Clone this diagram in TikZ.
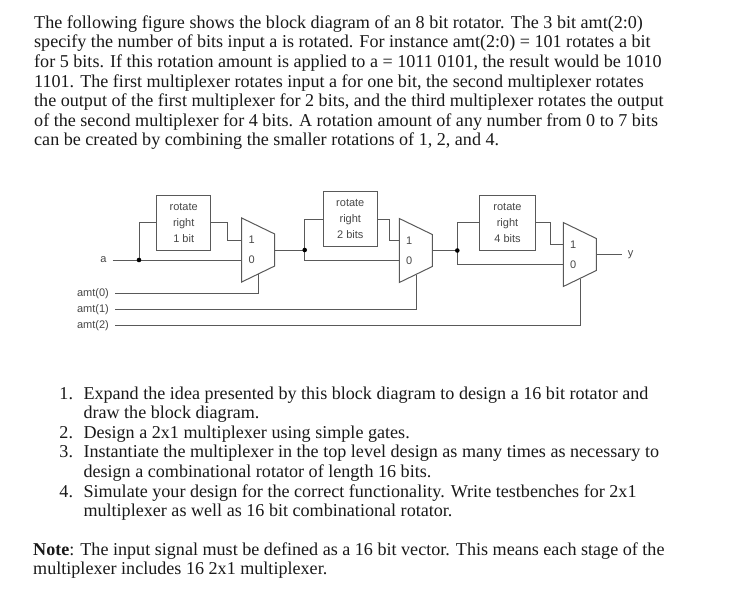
\documentclass[tikz,border=0pt]{standalone}
\usepackage{fontspec}
\setmainfont{Liberation Serif}
\setsansfont{Liberation Sans}
\usepackage{tikz}
\usetikzlibrary{calc}

\definecolor{wiregray}{gray}{0.35}
\definecolor{labelgray}{gray}{0.28}
\definecolor{textblack}{gray}{0.1}

% mux outline: name, left x, centre y
\newcommand{\muxblock}[3]{%
\draw [wire] (#2,#3-32) -- (#2+33,#3-16) -- (#2+33,#3+16) -- (#2,#3+32) -- cycle;
\coordinate (#1-in1) at (#2,#3-10);
\coordinate (#1-in0) at (#2,#3+10);
\coordinate (#1-out) at (#2+33,#3);
\coordinate (#1-sel) at (#2+17,#3+24);
\node [pin] (#1-p1) at (#2+10,#3-10) {1};
\node [pin] (#1-p0) at (#2+10,#3+10) {0};
}

\begin{document}
\begin{tikzpicture}[x=1pt,y=-1pt,
  wire/.style={wiregray,line width=1pt},
  para/.style={textblack,inner sep=0pt,align=left,font=\fontsize{18.1}{19.6}\selectfont},
  rotbox/.style={draw=wiregray,line width=1pt,fill=white,minimum width=54pt,minimum height=55pt,inner sep=0pt,align=center,text=labelgray,font=\sffamily\fontsize{11}{16}\selectfont},
  pin/.style={inner sep=0pt,text=labelgray,font=\sffamily\fontsize{11}{12}\selectfont},
  sig/.style={inner xsep=6pt,inner ysep=0pt,text=labelgray,font=\sffamily\fontsize{11}{12}\selectfont},
  dot/.style={fill=black}]
\useasboundingbox (0,0) rectangle (732,589);

% text above the figure (base = last line)
\node [para,anchor=base west] (intro) at (34,145.9) {The following figure shows the block diagram of an 8 bit rotator. The 3 bit amt(2:0)\\
specify the number of bits input a is rotated. For instance amt(2:0) = 101 rotates a bit\\
for 5 bits. If this rotation amount is applied to a = 1011 0101, the result would be 1010\\
1101. The first multiplexer rotates input a for one bit, the second multiplexer rotates\\
the output of the first multiplexer for 2 bits, and the third multiplexer rotates the output\\
of the second multiplexer for 4 bits. A rotation amount of any number from 0 to 7 bits\\
can be created by combining the smaller rotations of 1, 2, and 4.};

% the rotator
\node [rotbox] (rot1) at (183.7,222.5) {rotate\\right\\1 bit};
\node [rotbox] (rot2) at (350.3,219) {rotate\\right\\2 bits};
\node [rotbox,minimum width=56pt] (rot4) at (507.5,222.7) {rotate\\right\\4 bits};
\muxblock{m1}{241.7}{250}
\muxblock{m2}{399.3}{250.5}
\muxblock{m3}{563.3}{254.5}

\node [sig,anchor=east] (a) at (112.7,260) {a};
\node [sig,anchor=east] (amt0) at (115,293.3) {amt(0)};
\node [sig,anchor=east] (amt1) at (115,309.3) {amt(1)};
\node [sig,anchor=east] (amt2) at (115,325.7) {amt(2)};
\node [sig,anchor=west] (y) at (621.7,254.5) {y};

\draw [wire] (a.east) -- (m1-in0);
\coordinate (j1) at (139,260);
\draw [wire] (j1) |- (rot1.west);
\draw [wire] (rot1.east) -- ++(16.7,0) |- (m1-in1);
\draw [wire] (m1-out) -- ++(30,0) coordinate (j2) |- (m2-in0);
\draw [wire] (j2) |- (rot2.west);
\draw [wire] (rot2.east) -- ++(11.6,0) |- (m2-in1);
\draw [wire] (m2-out) -- ++(25,0) coordinate (j3) |- (m3-in0);
\draw [wire] (j3) |- (rot4.west);
\draw [wire] (rot4.east) -- ++(14.3,0) |- (m3-in1);
\draw [wire] (m3-out) -- (y.west);
\draw [wire] (amt0.east) -| (m1-sel);
\draw [wire] (amt1.east) -| (m2-sel);
\draw [wire] (amt2.east) -| (m3-sel);
\foreach \j in {j1,j2,j3} \fill [dot] (\j) circle (2.3pt);

% tasks (base = last line)
\node [para,anchor=base west] (n1) at (59.3,399) {1.};
\node [para,anchor=base west] (t1) at (83.3,418.6) {Expand the idea presented by this block diagram to design a 16 bit rotator and\\
draw the block diagram.};
\node [para,anchor=base west] (n2) at (59.3,438.2) {2.};
\node [para,anchor=base west] (t2) at (83.3,438.2) {Design a 2x1 multiplexer using simple gates.};
\node [para,anchor=base west] (n3) at (59.3,457.8) {3.};
\node [para,anchor=base west] (t3) at (83.3,477.4) {Instantiate the multiplexer in the top level design as many times as necessary to\\
design a combinational rotator of length 16 bits.};
\node [para,anchor=base west] (n4) at (59.3,497) {4.};
\node [para,anchor=base west] (t4) at (83.3,516.6) {Simulate your design for the correct functionality. Write testbenches for 2x1\\
multiplexer as well as 16 bit combinational rotator.};

\node [para,anchor=base west] (note) at (33,574.6) {\textbf{Note}: The input signal must be defined as a 16 bit vector. This means each stage of the\\
multiplexer includes 16 2x1 multiplexer.};
\end{tikzpicture}
\end{document}
